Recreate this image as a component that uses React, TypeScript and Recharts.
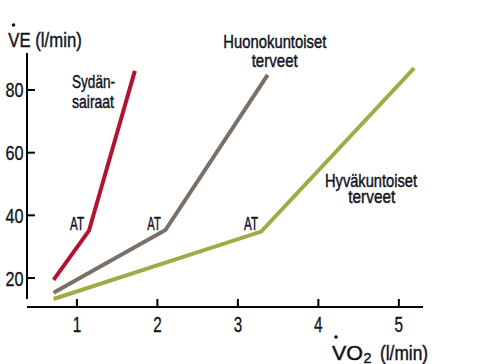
import { LineChart, Line, XAxis, YAxis, ReferenceLine } from 'recharts';

// VO2 (l/min) and VE (l/min)
const sydanVO2 = [0.71, 1.15, 1.72];
const sydanVE = [19.4, 35.1, 86.1];
const huonoVO2 = [0.71, 2.1, 3.37];
const huonoVE = [15.3, 35.3, 84.8];
const hyvaVO2 = [0.71, 3.29, 5.19];
const hyvaVE = [13.3, 34.8, 87];

const xTicks = [1, 2, 3, 4, 5];
const yTicks = [20, 40, 60, 80];

const X_DOMAIN = [0.38, 5.3];
const Y_DOMAIN = [10.75, 91.8];
const Y_AXIS_FROM = 13.3;

// condensed look: regular Liberation Sans squeezed with textLength
const FONT = "'Liberation Sans', Arial, sans-serif";
const INK = '#10131f';

const toPoints = (xs: number[], ys: number[]) => xs.map((vo2, i) => ({ vo2, ve: ys[i] }));

const XTick = (props: any) => {
  const { x, y, payload } = props;
  const s = String(payload.value);
  return (
    <g>
      <line x1={x} y1={y - 8} x2={x} y2={y} stroke="#000" strokeWidth={2} />
      <text x={x} y={y + 25} textAnchor="middle" fontSize={22} fontFamily={FONT} fill={INK}
        stroke={INK} strokeWidth={0.35} textLength={8.5 * s.length} lengthAdjust="spacingAndGlyphs">
        {s}
      </text>
    </g>
  );
};

const YTick = (props: any) => {
  const { x, y, payload } = props;
  const s = String(payload.value);
  return (
    <g>
      <line x1={x} y1={y} x2={x + 8} y2={y} stroke="#000" strokeWidth={2} />
      <text x={x - 3.5} y={y + 7.5} textAnchor="end" fontSize={21} fontFamily={FONT} fill={INK}
        stroke={INK} strokeWidth={0.35} textLength={9 * s.length} lengthAdjust="spacingAndGlyphs">
        {s}
      </text>
    </g>
  );
};

const Squeezed = ({ x, y, w, size, children }: any) => (
  <text x={x} y={y} fontSize={size} fontFamily={FONT} fill={INK} stroke={INK} strokeWidth={0.45}
    textLength={w} lengthAdjust="spacingAndGlyphs">
    {children}
  </text>
);

export default function App() {
  return (
    <div style={{ position: 'absolute', left: 0, top: 0, width: 479, height: 364, background: '#fff' }}>
      <LineChart width={479} height={364} margin={{ top: 53, right: 56, left: 0, bottom: 27 }}>
        <XAxis
          type="number"
          dataKey="vo2"
          domain={X_DOMAIN}
          ticks={xTicks}
          height={30}
          tickSize={0}
          tickMargin={0}
          tickLine={false}
          tick={<XTick />}
          axisLine={{ stroke: '#000', strokeWidth: 2 }}
        />
        <YAxis
          type="number"
          domain={Y_DOMAIN}
          ticks={yTicks}
          width={27}
          tickSize={0}
          tickMargin={0}
          tickLine={false}
          tick={<YTick />}
          axisLine={false}
        />
        <ReferenceLine
          segment={[
            { x: X_DOMAIN[0], y: Y_AXIS_FROM },
            { x: X_DOMAIN[0], y: Y_DOMAIN[1] },
          ]}
          stroke="#000"
          strokeWidth={2}
        />
        <Line data={toPoints(sydanVO2, sydanVE)} dataKey="ve" type="linear" stroke="#b3132c" strokeWidth={4} dot={false} isAnimationActive={false} />
        <Line data={toPoints(huonoVO2, huonoVE)} dataKey="ve" type="linear" stroke="#7b6f68" strokeWidth={4} dot={false} isAnimationActive={false} />
        <Line data={toPoints(hyvaVO2, hyvaVE)} dataKey="ve" type="linear" stroke="#a0ab48" strokeWidth={4} dot={false} isAnimationActive={false} />
      </LineChart>

      <svg width={479} height={364} style={{ position: 'absolute', left: 0, top: 0, pointerEvents: 'none' }}>
        {/* axis titles, dot over V */}
        <circle cx={13.5} cy={25} r={1.8} fill={INK} />
        <Squeezed x={8.3} y={46.7} w={73.5} size={21}>VE (l/min)</Squeezed>
        <circle cx={336} cy={337} r={1.8} fill={INK} />
        <Squeezed x={332} y={360} w={31} size={21}>VO</Squeezed>
        <Squeezed x={363.5} y={362.5} w={8} size={15}>2</Squeezed>
        <Squeezed x={380} y={360} w={48} size={21}>(l/min)</Squeezed>

        {/* series labels */}
        <Squeezed x={72} y={88} w={43} size={18.5}>Sydän-</Squeezed>
        <Squeezed x={72} y={108} w={42} size={18.5}>sairaat</Squeezed>
        <Squeezed x={223.3} y={48} w={103} size={18.5}>Huonokuntoiset</Squeezed>
        <Squeezed x={251.7} y={66.7} w={46} size={18.5}>terveet</Squeezed>
        <Squeezed x={325} y={186.7} w={92} size={18.5}>Hyväkuntoiset</Squeezed>
        <Squeezed x={348.3} y={203.3} w={47} size={18.5}>terveet</Squeezed>

        {/* anaerobic thresholds */}
        <Squeezed x={70} y={230} w={14} size={18.5}>AT</Squeezed>
        <Squeezed x={147.3} y={230} w={13.4} size={18.5}>AT</Squeezed>
        <Squeezed x={244} y={230} w={14} size={18.5}>AT</Squeezed>
      </svg>
    </div>
  );
}
